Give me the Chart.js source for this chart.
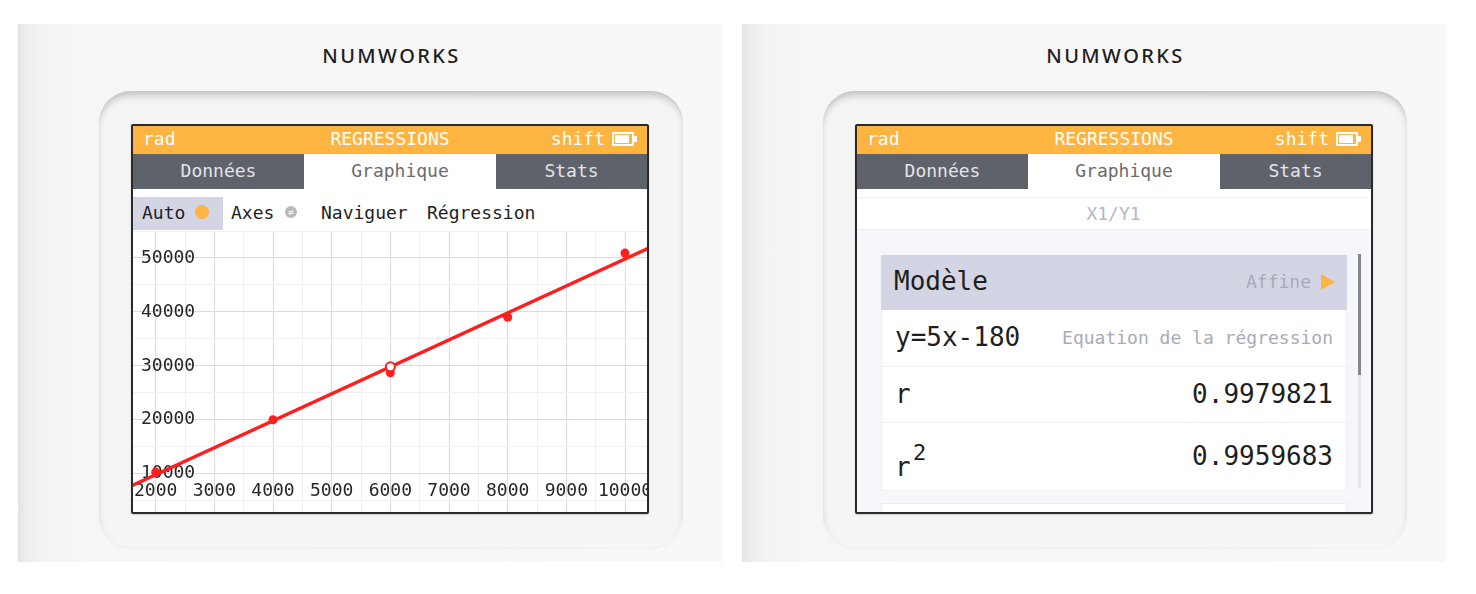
<!DOCTYPE html>
<html>
<head>
<meta charset="utf-8">
<script src="https://cdn.jsdelivr.net/npm/chart.js@4.4.1/dist/chart.umd.min.js"></script>
<style>
  body { margin: 0; width: 1476px; height: 594px; background: #fff; position: relative; overflow: hidden; font-family: "DejaVu Sans Mono", monospace; }
  .shell { position: absolute; top: 24px; width: 704px; height: 538px; background: linear-gradient(to right, #e3e3e3 0, #ececec 7px, #f3f3f3 22px, #f6f6f6 60px, #f8f8f8 100%); }
  .brand { position: absolute; left: 82px; top: 18px; width: 583px; text-align: center; font: 500 20px "Noto Sans", sans-serif; letter-spacing: 2.4px; color: #1d1d1d; }
  .bezel { position: absolute; left: 81px; top: 67px; width: 584px; height: 456px; border-radius: 32px; background: #f5f5f5;
    box-shadow: inset 0 9px 8px -5px rgba(0,0,0,.22), inset 4px 0 6px -4px rgba(0,0,0,.1), inset -4px 0 6px -4px rgba(0,0,0,.08), inset 0 -3px 4px -2px rgba(255,255,255,.9), 0 2px 3px rgba(0,0,0,.03); }
  .screen { position: absolute; left: 113px; top: 100px; width: 518px; height: 390px; box-sizing: border-box; border: 2px solid #2a2a2a; border-radius: 2px; background: #fff; overflow: hidden; box-shadow: 0 1px 2px rgba(0,0,0,.15); }
  .hdr { position: absolute; left: 0; top: 0; width: 514px; height: 28px; background: #fdb441; color: #fff; font-size: 18px; line-height: 26px; }
  .hdr .l { position: absolute; left: 10px; }
  .hdr .c { position: absolute; left: 0; width: 514px; text-align: center; }
  .hdr .r { position: absolute; right: 42px; }
  .batt { position: absolute; left: 479px; top: 6px; width: 22px; height: 14px; box-sizing: border-box; border: 2px solid #fff; border-radius: 1px; }
  .batt::before { content: ""; position: absolute; left: 1px; top: 1px; width: 14px; height: 8px; background: #fff; }
  .batt::after { content: ""; position: absolute; left: 20px; top: 2px; width: 3px; height: 6px; background: #fff; }
  .tabs { position: absolute; left: 0; top: 28px; width: 514px; height: 35px; background: #5d626b; font-size: 18px; line-height: 33px; color: #e4e4e6; }
  .tab { position: absolute; top: 0; height: 35px; text-align: center; }
  .tab.on { background: #fff; color: #6b6b6b; }
  .tool { position: absolute; left: 0; top: 63px; width: 514px; height: 42px; background: #fff; font-size: 18px; color: #1e1e1e; }
  .tool span { position: absolute; top: 0; line-height: 47px; }
  .auto { position: absolute; left: 0; top: 8px; width: 90px; height: 33px; background: #d4d5e4; }
  .dot { position: absolute; left: 62px; top: 16px; width: 14px; height: 14px; border-radius: 50%; background: #fdb441; }
  .ico { position: absolute; left: 152px; top: 17px; width: 12px; height: 12px; border-radius: 50%; background: #b9b9bd; color: #fff; font-size: 9px; line-height: 12px; text-align: center; }
  .plot { position: absolute; left: 0; top: 105px; width: 514px; height: 281px; }
  .sub { position: absolute; left: 1px; top: 71px; width: 511px; height: 33px; box-sizing: border-box; border-top: 1px solid #eceef3; border-bottom: 1px solid #e9ebf1; background: #fff; text-align: center; color: #b6b7c6; font-size: 18px; line-height: 32px; }
  .content { position: absolute; left: 0; top: 104px; width: 514px; height: 282px; background: #f5f7fb; }
  .table { position: absolute; left: 24px; top: 129px; width: 466px; }
  .row { position: absolute; left: 0; width: 466px; box-sizing: border-box; background: #fff; border: 1px solid #eceef2; border-top: none; color: #1e1e1e; font-size: 26px; }
  .row .k { position: absolute; left: 13px; }
  .row .v { position: absolute; right: 13px; }
  .row .g { color: #a9aab7; font-size: 18px; }
  .tri { display: inline-block; width: 0; height: 0; border-top: 8px solid transparent; border-bottom: 8px solid transparent; border-left: 14px solid #fdb441; margin-left: 10px; vertical-align: -2px; }
  .track { position: absolute; left: 501px; top: 128px; width: 3px; height: 234px; background: #e3e4ea; }
  .thumb { position: absolute; left: 501px; top: 128px; width: 3px; height: 121px; background: #86878d; }
</style>
</head>
<body>

<div class="shell" style="left:18px">
  <div class="brand">NUMWORKS</div>
  <div class="bezel"></div>
  <div class="screen">
    <div class="hdr"><span class="l">rad</span><span class="c">REGRESSIONS</span><span class="r">shift</span><div class="batt"></div></div>
    <div class="tabs">
      <div class="tab" style="left:0;width:171px">Données</div>
      <div class="tab on" style="left:171px;width:192px">Graphique</div>
      <div class="tab" style="left:363px;width:151px">Stats</div>
    </div>
    <div class="tool">
      <div class="auto"></div>
      <span style="left:9px">Auto</span>
      <div class="dot"></div>
      <span style="left:98px">Axes</span>
      <div class="ico">⇄</div>
      <span style="left:188px">Naviguer</span>
      <span style="left:294px">Régression</span>
    </div>
    <div class="plot"><canvas id="chart"></canvas></div>
  </div>
</div>

<div class="shell" style="left:742px">
  <div class="brand">NUMWORKS</div>
  <div class="bezel"></div>
  <div class="screen">
    <div class="hdr"><span class="l">rad</span><span class="c">REGRESSIONS</span><span class="r">shift</span><div class="batt"></div></div>
    <div class="tabs">
      <div class="tab" style="left:0;width:171px">Données</div>
      <div class="tab on" style="left:171px;width:192px">Graphique</div>
      <div class="tab" style="left:363px;width:151px">Stats</div>
    </div>
    <div class="content"></div>
    <div class="sub">X1/Y1</div>
    <div class="table" id="stats"></div>
    <div class="track"></div>
    <div class="thumb"></div>
  </div>
</div>

<script>
// points of the series X1/Y1
const xValues = [2000, 4000, 6000, 8000, 10000]
const yValues = [10300, 20000, 28700, 39000, 50900]

// regression y=5x-180, drawn between the two ends seen on screen
const regressionX = [1600, 10400]
const regressionY = [7820, 51820]

// cursor (open circle) on the regression line
const cursorX = [6000]
const cursorY = [29820]

// window of the graph
const xRange = [1613, 10375]
const yRange = [2900, 55000]
const xStep = 500, xLabelStep = 1000
const yStep = 5000, yLabelStep = 10000

// stats panel
const statNames = ['Modèle', 'y=5x-180', 'r', 'r²']
const statValues = ['Affine', 'Equation de la régression', '0.9979821', '0.9959683']

const red = '#ff1e1e'
const gridMajor = '#dddae2'
const gridMinor = '#efeef2'

const toPoints = (xs, ys) => xs.map((x, i) => ({ x: x, y: ys[i] }))

const gridColor = (major, minor) => (c) => {
  const v = c.tick ? c.tick.value : NaN
  if (v % major === 0) return gridMajor
  if (v % minor === 0) return gridMinor
  return 'rgba(0,0,0,0)'
}

// grid on round values only, not spread between min and max
const stepTicks = (step) => (scale) => {
  const ticks = []
  for (let v = Math.ceil(scale.min / step) * step; v <= scale.max; v += step) ticks.push({ value: v })
  scale.ticks = ticks
}

// the axes take no room: labels sit inside the plot like on the calculator
const flatten = (scale) => {
  if (scale.isHorizontal()) scale.height = 0
  else scale.width = 0
  scale.paddingTop = 0
  scale.paddingBottom = 0
  scale.paddingLeft = 0
  scale.paddingRight = 0
}

const tickFont = { family: '"DejaVu Sans Mono", monospace', size: 18, lineHeight: 1 }

new Chart(document.getElementById('chart'), {
  type: 'scatter',
  data: {
    datasets: [
      {
        data: toPoints(cursorX, cursorY),
        pointRadius: 4.5,
        pointBackgroundColor: '#fff',
        pointBorderColor: red,
        pointBorderWidth: 2,
      },
      {
        data: toPoints(xValues, yValues),
        pointRadius: 4.5,
        pointBackgroundColor: red,
        pointBorderColor: red,
        pointBorderWidth: 0,
      },
      {
        data: toPoints(regressionX, regressionY),
        showLine: true,
        borderColor: red,
        borderWidth: 3.5,
        pointRadius: 0,
      },
    ]
  },
  options: {
    responsive: true,
    maintainAspectRatio: false,
    animation: false,
    devicePixelRatio: 1,
    layout: { padding: 0, autoPadding: false },
    plugins: { legend: { display: false }, tooltip: { enabled: false } },
    events: [],
    scales: {
      x: {
        type: 'linear',
        position: 'bottom',
        min: xRange[0],
        max: xRange[1],
        afterBuildTicks: stepTicks(xStep),
        afterFit: flatten,
        border: { display: false },
        grid: { color: gridColor(xLabelStep, xStep), lineWidth: 1, drawTicks: false },
        ticks: {
          autoSkip: false,
          maxRotation: 0,
          minRotation: 0,
          mirror: true,
          padding: 12,
          color: '#262626',
          font: tickFont,
          callback: (v) => v % xLabelStep === 0 ? String(v) : '',
        },
      },
      y: {
        type: 'linear',
        position: 'left',
        min: yRange[0],
        max: yRange[1],
        afterBuildTicks: stepTicks(yStep),
        afterFit: flatten,
        border: { display: false },
        grid: { color: gridColor(yLabelStep, yStep), lineWidth: 1, drawTicks: false },
        ticks: {
          autoSkip: false,
          mirror: true,
          padding: 8,
          color: '#262626',
          font: tickFont,
          callback: (v) => v % yLabelStep === 0 ? String(v) : '',
        },
      },
    },
  },
})

// stats rows
const rowTops = [0, 55, 112, 168]
const rowHeights = [55, 57, 56, 68]
const stats = document.getElementById('stats')
statNames.forEach((name, i) => {
  const row = document.createElement('div')
  row.className = 'row'
  row.style.top = rowTops[i] + 'px'
  row.style.height = rowHeights[i] + 'px'
  if (i === 0) { row.style.background = '#d4d5e4'; row.style.border = 'none' }
  const lh = 'line-height:' + (rowHeights[i] - 2) + 'px'
  let key = '<span class="k" style="' + lh + '">' + name + '</span>'
  if (name === 'r²') {
    key = '<span class="k" style="top:29px;line-height:30px">r</span>' +
          '<span class="k" style="left:31px;top:17px;line-height:26px;font-size:22px">2</span>'
  }
  let val
  if (i === 0) {
    val = '<span class="v g" style="right:12px;' + lh + '">' + statValues[i] + '<span class="tri"></span></span>'
  } else if (i === 1) {
    val = '<span class="v g" style="' + lh + '">' + statValues[i] + '</span>'
  } else {
    val = '<span class="v" style="' + lh + '">' + statValues[i] + '</span>'
  }
  row.innerHTML = key + val
  stats.appendChild(row)
})
const more = document.createElement('div')
more.className = 'row'
more.style.top = '248px'
more.style.height = '40px'
more.style.borderTop = '1px solid #eceef2'
stats.appendChild(more)
</script>
</body>
</html>
